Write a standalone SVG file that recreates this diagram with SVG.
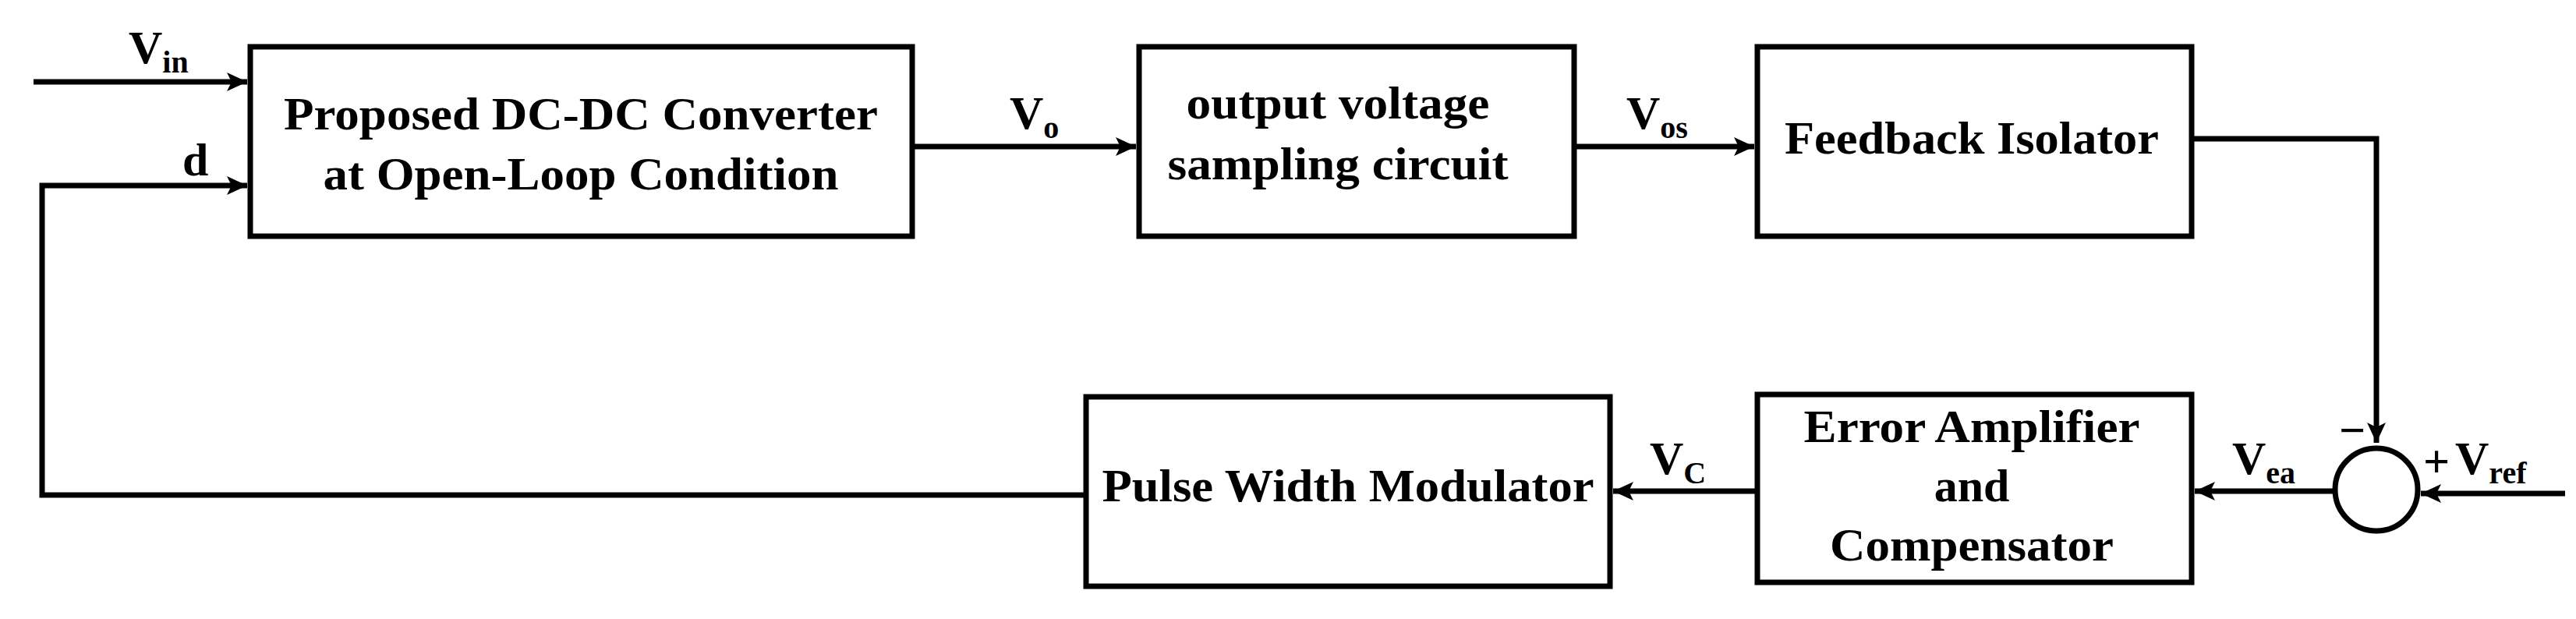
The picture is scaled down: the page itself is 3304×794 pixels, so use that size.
<svg xmlns="http://www.w3.org/2000/svg" width="3304" height="794" viewBox="0 0 3304 794">
<style>
rect,circle{fill:#fff;stroke:#000;stroke-width:7}
.c{fill:none;stroke:#000;stroke-width:7}
text{font-family:"Liberation Serif",serif;font-weight:bold;font-size:60px;fill:#000}
.m{text-anchor:middle}
.s{font-size:40px}
</style>
<defs>
<marker id="a" markerUnits="userSpaceOnUse" markerWidth="40" markerHeight="40" refX="30" refY="15" orient="auto">
<path d="M4,3 L30,15 L4,27 L10,15 Z" fill="#000"/>
</marker>
</defs>
<g id="connectors">
<path class="c" d="M43,105 H317" marker-end="url(#a)"/>
<path class="c" d="M1393,635 H54 V238 H317" marker-end="url(#a)"/>
<path class="c" d="M1170,188 H1457" marker-end="url(#a)"/>
<path class="c" d="M2019,188 H2250" marker-end="url(#a)"/>
<path class="c" d="M2811,178 H3048 V568" marker-end="url(#a)"/>
<path class="c" d="M3290,633 H3105" marker-end="url(#a)"/>
<path class="c" d="M2995,630 H2815" marker-end="url(#a)"/>
<path class="c" d="M2254,630 H2069" marker-end="url(#a)"/>
</g>
<g id="labels">
<text x="165" y="81">V<tspan class="s" dy="12">in</tspan></text>
<text x="234" y="225">d</text>
<text x="1295" y="165">V<tspan class="s" dy="12">o</tspan></text>
<text x="2086" y="165">V<tspan class="s" dy="12">os</tspan></text>
<text x="2116" y="608">V<tspan class="s" dy="12">C</tspan></text>
<text x="2863" y="608">V<tspan class="s" dy="12">ea</tspan></text>
<text x="3000" y="572">−</text>
<text x="3108" y="612">+</text>
<text x="3149" y="608">V<tspan class="s" dy="12">ref</tspan></text>
</g>
<g id="converter">
<rect x="321" y="60" width="849" height="243"/>
<text class="m" x="745" y="166" textLength="762" lengthAdjust="spacingAndGlyphs">Proposed DC-DC Converter</text>
<text class="m" x="745" y="243" textLength="661" lengthAdjust="spacingAndGlyphs">at Open-Loop Condition</text>
</g>
<g id="sampling">
<rect x="1461" y="60" width="558" height="243"/>
<text class="m" x="1716" y="152" textLength="389" lengthAdjust="spacingAndGlyphs">output voltage</text>
<text class="m" x="1716" y="230" textLength="437" lengthAdjust="spacingAndGlyphs">sampling circuit</text>
</g>
<g id="isolator">
<rect x="2254" y="60" width="557" height="243"/>
<text class="m" x="2529" y="197" textLength="480" lengthAdjust="spacingAndGlyphs">Feedback Isolator</text>
</g>
<g id="sum">
<circle cx="3048" cy="628" r="53"/>
</g>
<g id="error-amp">
<rect x="2254" y="506" width="557" height="241"/>
<text class="m" x="2529" y="567" textLength="431" lengthAdjust="spacingAndGlyphs">Error Amplifier</text>
<text class="m" x="2529" y="643">and</text>
<text class="m" x="2529" y="719" textLength="364" lengthAdjust="spacingAndGlyphs">Compensator</text>
</g>
<g id="pwm">
<rect x="1393" y="509" width="672" height="243"/>
<text class="m" x="1729" y="643" textLength="631" lengthAdjust="spacingAndGlyphs">Pulse Width Modulator</text>
</g>
</svg>
